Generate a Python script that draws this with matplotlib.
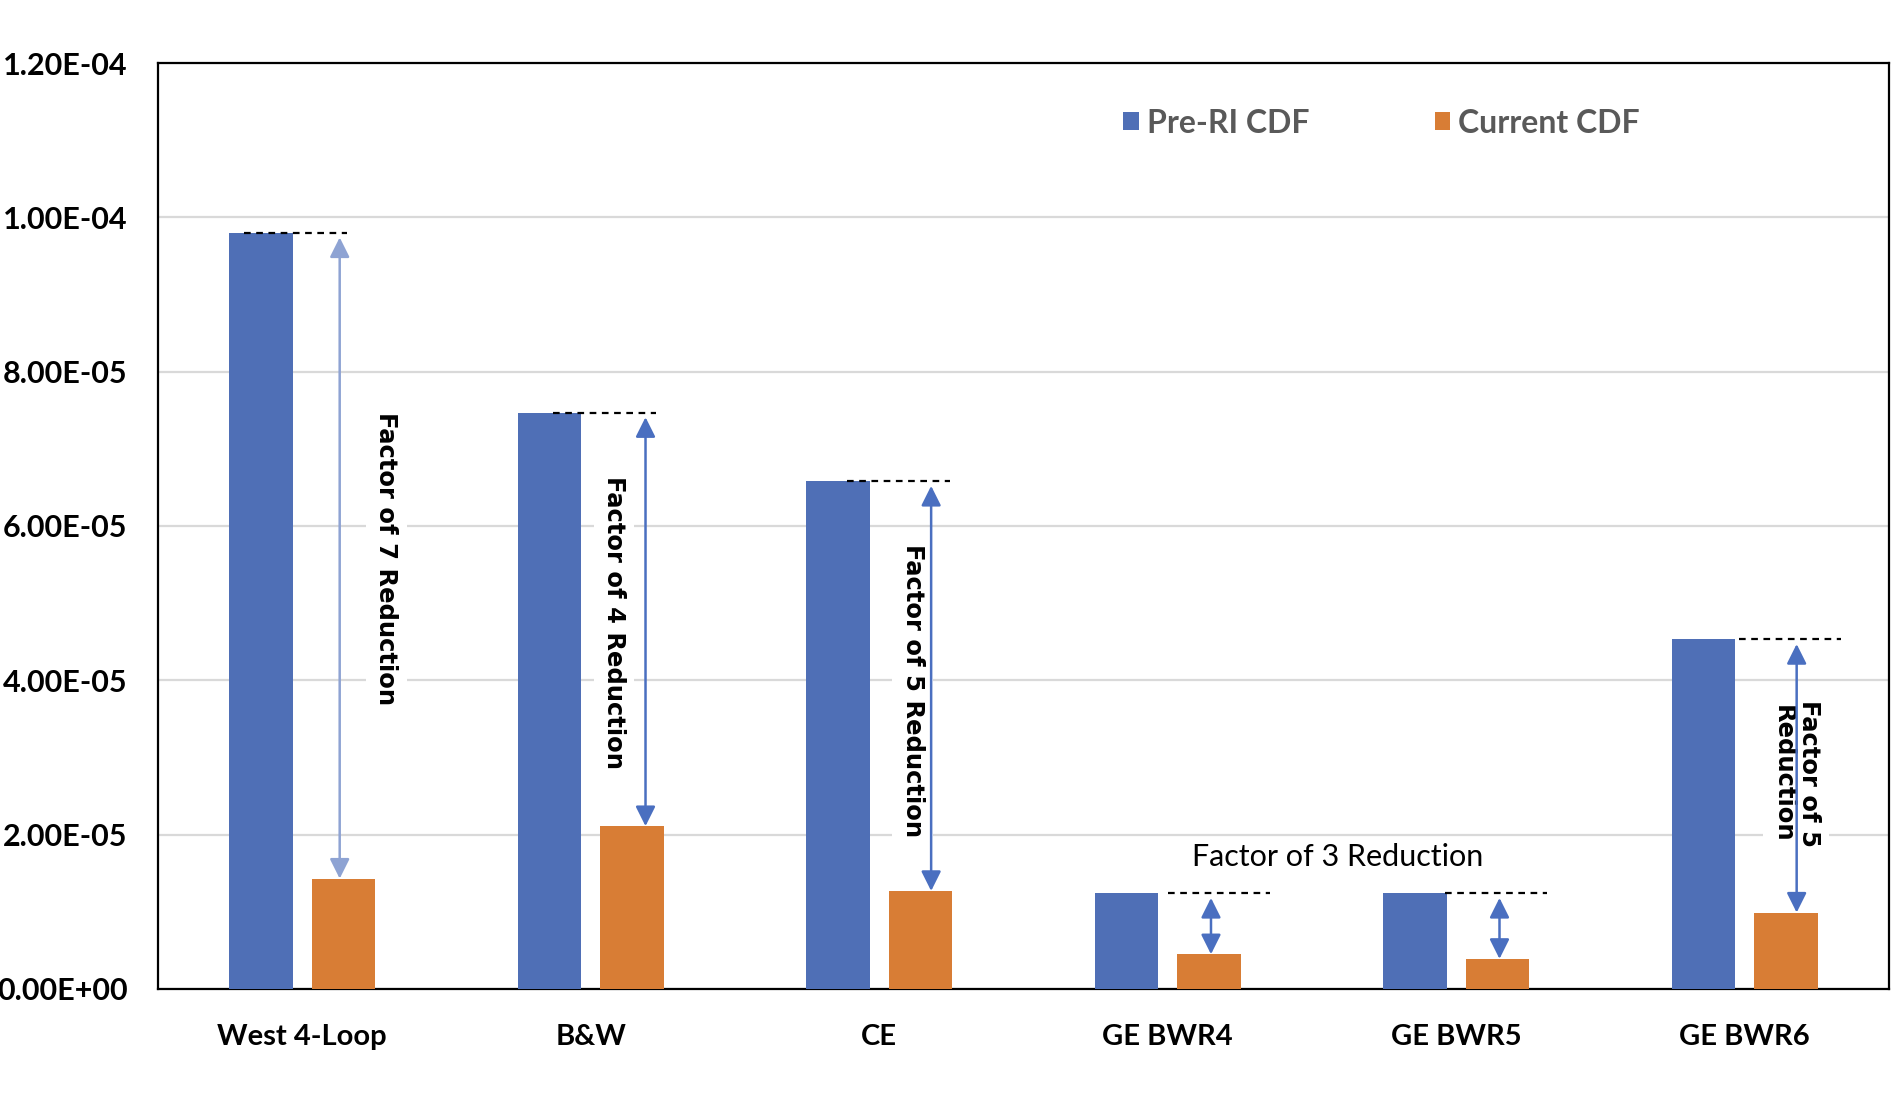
import numpy as np
import matplotlib.pyplot as plt
from matplotlib.ticker import FuncFormatter

# data
plants = ["West 4-Loop", "B&W", "CE", "GE BWR4", "GE BWR5", "GE BWR6"]
pre_ri_cdf = [9.80e-5, 7.47e-5, 6.58e-5, 1.24e-5, 1.24e-5, 4.53e-5]
current_cdf = [1.43e-5, 2.11e-5, 1.27e-5, 4.5e-6, 3.9e-6, 9.9e-6]
factor_labels = ["Factor of 7 Reduction", "Factor of 4 Reduction",
                 "Factor of 5 Reduction", "Factor of 3 Reduction",
                 None, "Factor of 5\nReduction"]

blue = "#4F6FB6"
orange = "#D87D35"
arrow_blue = "#4A6FC0"

fig = plt.figure(figsize=(18.96, 10.98), dpi=100)
ax = fig.add_axes([0.0833, 0.0993, 0.913, 0.8433])

x = np.arange(len(plants))
w = 0.22
off = 0.143
ax.bar(x - off, pre_ri_cdf, w, color=blue, label="Pre-RI CDF", zorder=3)
ax.bar(x + off, current_cdf, w, color=orange, label="Current CDF", zorder=3)

ax.set_xlim(-0.5, len(plants) - 0.5)
ax.set_ylim(0, 1.2e-4)
ax.set_yticks(np.arange(0, 1.21e-4, 2e-5))
ax.yaxis.set_major_formatter(FuncFormatter(lambda v, p: "%.2E" % v))
ax.set_xticks(x)
ax.set_xticklabels(plants)
ax.grid(axis="y", color="#D9D9D9", lw=1.6, zorder=0)
ax.tick_params(length=0)
ax.tick_params(axis="y", pad=22)
ax.tick_params(axis="x", pad=25)
for lab in ax.get_yticklabels():
    lab.set_fontfamily(["Lato", "DejaVu Sans"])
    lab.set_fontweight("bold")
    lab.set_fontsize(22)
for lab in ax.get_xticklabels():
    lab.set_fontfamily(["Lato", "DejaVu Sans"])
    lab.set_fontweight("bold")
    lab.set_fontsize(21)
for s in ax.spines.values():
    s.set_color("black")
    s.set_linewidth(1.6)

# dashed marker at top of each blue bar and double arrow down to orange bar
dash_start = [-0.20, -0.13, -0.11, 0.0, -0.04, -0.02]
arrow_dx = [0.13, 0.19, 0.18, 0.15, 0.15, 0.18]
for i in range(len(plants)):
    ax.plot([i + dash_start[i], i + dash_start[i] + 0.355],
            [pre_ri_cdf[i], pre_ri_cdf[i]], ls=(0, (3, 2.5)), color="black",
            lw=1.6, zorder=5)
    col = "#8EA3D3" if i == 0 else arrow_blue
    ax.annotate("", xy=(i + arrow_dx[i], current_cdf[i]),
                xytext=(i + arrow_dx[i], pre_ri_cdf[i] - 0.6e-6),
                arrowprops=dict(arrowstyle="<|-|>", color=col, lw=1.8,
                                mutation_scale=30, shrinkA=0, shrinkB=0),
                zorder=6)

# rotated annotations
rot_pos = {0: (0.292, 5.58e-5), 1: (1.081, 4.75e-5), 2: (2.116, 3.87e-5),
           5: (5.177, 2.79e-5)}
for i, (tx, ty) in rot_pos.items():
    ax.text(tx, ty, factor_labels[i], rotation=-90, ha="center", va="center",
            multialignment="center", fontsize=17.5, fontweight="bold",
            family="DejaVu Sans", linespacing=1.1,
            bbox=dict(facecolor="white", edgecolor="none", pad=6), zorder=4)

ax.text(3.588, 1.71e-5, factor_labels[3], ha="center", va="center",
        fontsize=22, family=["Lato", "DejaVu Sans"], zorder=4)

leg = ax.legend(loc="center", bbox_to_anchor=(0.707, 0.935), ncol=2,
                frameon=False, handlelength=0.5, handleheight=0.5,
                handletextpad=0.25, columnspacing=3.9,
                prop={"family": ["Lato", "DejaVu Sans"], "weight": "bold",
                      "size": 23})
for t in leg.get_texts():
    t.set_color("#595959")

fig.savefig("out.png", dpi=100)
